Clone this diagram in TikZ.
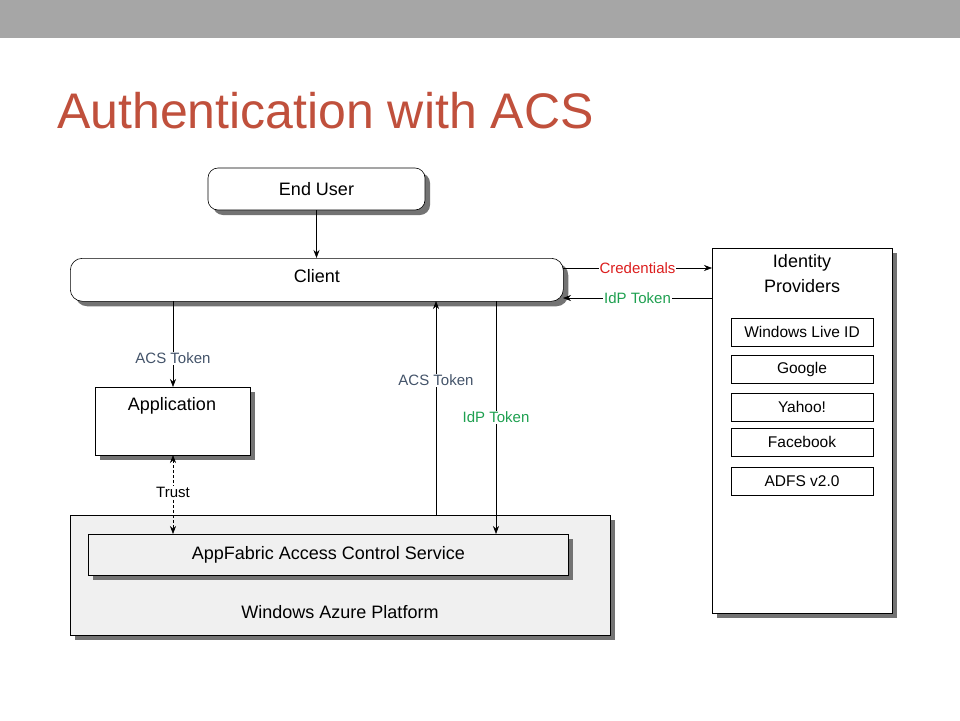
\documentclass[tikz,border=0pt]{standalone}
\usepackage{fontspec}
\setmainfont{Liberation Sans}
\usetikzlibrary{arrows.meta,shadows}
\definecolor{titlec}{RGB}{192,80,60}
\definecolor{acsc}{RGB}{68,84,106}
\definecolor{idpc}{RGB}{30,160,80}
\definecolor{credc}{RGB}{220,30,30}
\begin{document}
\begin{tikzpicture}[x=1pt,y=-1pt,
  box/.style={draw=black,fill=white,line width=0.6pt,drop shadow={shadow xshift=5pt,shadow yshift=-5pt,fill=black!55,opacity=1},font=\fontsize{18}{20}\selectfont,inner sep=0pt},
  small/.style={draw=black,fill=white,line width=0.6pt,font=\fontsize{15.5}{18}\selectfont,inner sep=0pt},
  arr/.style={-{Stealth[length=8pt,width=6pt]},line width=0.6pt},
  lbl/.style={fill=white,font=\fontsize{15}{17}\selectfont,inner sep=1pt}]
\useasboundingbox (0,0) rectangle (960,720);
\fill[white] (0,0) rectangle (960,720);
\fill[black!35] (0,0) rectangle (960,38);
\node[anchor=base west,text=titlec,font=\fontsize{50}{56}\selectfont,inner sep=0pt] (title) at (57,128) {Authentication with ACS};

\node[box,rounded corners=10pt,minimum width=217pt,minimum height=42pt] (user) at (316.5,189) {End User};
\node[box,rounded corners=12pt,minimum width=493pt,minimum height=43pt,anchor=north west] (client) at (70,258) {\raisebox{8pt}{Client}};
\node[box,minimum width=180pt,minimum height=365pt,anchor=north west] (idp) at (712,248) {};
\node[font=\fontsize{18}{25}\selectfont,align=center] (idpt) at (802,274) {Identity\\Providers};
\node[small,minimum width=142pt,minimum height=28pt] (wl) at (802,332) {Windows Live ID};
\node[small,minimum width=142pt,minimum height=28pt] (go) at (802,369) {Google};
\node[small,minimum width=142pt,minimum height=28pt] (ya) at (802,407) {Yahoo!};
\node[small,minimum width=142pt,minimum height=28pt] (fb) at (802,442) {Facebook};
\node[small,minimum width=142pt,minimum height=28pt] (ad) at (802,481) {ADFS v2.0};
\node[box,minimum width=155pt,minimum height=68pt,anchor=north west] (app) at (95,387) {};
\node[font=\fontsize{18}{20}\selectfont] (appt) at (172,406) {Application};
\node[box,fill=black!6,minimum width=540pt,minimum height=120pt,anchor=north west] (azure) at (70,515) {};
\node[font=\fontsize{18}{20}\selectfont] (azt) at (340,612) {Windows Azure Platform};
\node[box,fill=black!6,minimum width=480pt,minimum height=41pt,anchor=north west] (acs) at (88,534) {AppFabric Access Control Service};

\draw[arr] (user.south) -- (user.south |- client.north);
\draw[arr] (173,301) -- (173,387) node[lbl,pos=0.67,text=acsc] {ACS Token};
\draw[arr,{Stealth[length=8pt,width=6pt]}-{Stealth[length=8pt,width=6pt]},dash pattern=on 3pt off 2pt] (173,455) -- (173,534) node[lbl,pos=0.47] {Trust};
\draw[arr] (436,515) -- (436,301) node[lbl,pos=0.63,text=acsc] {ACS Token};
\draw[arr] (496,301) -- (496,534) node[lbl,pos=0.5,text=idpc] {IdP Token};
\draw[arr] (563,268) -- (712,268) node[lbl,pos=0.5,text=credc] {Credentials};
\draw[arr] (712,298) -- (563,298) node[lbl,pos=0.5,text=idpc] {IdP Token};
\end{tikzpicture}
\end{document}
